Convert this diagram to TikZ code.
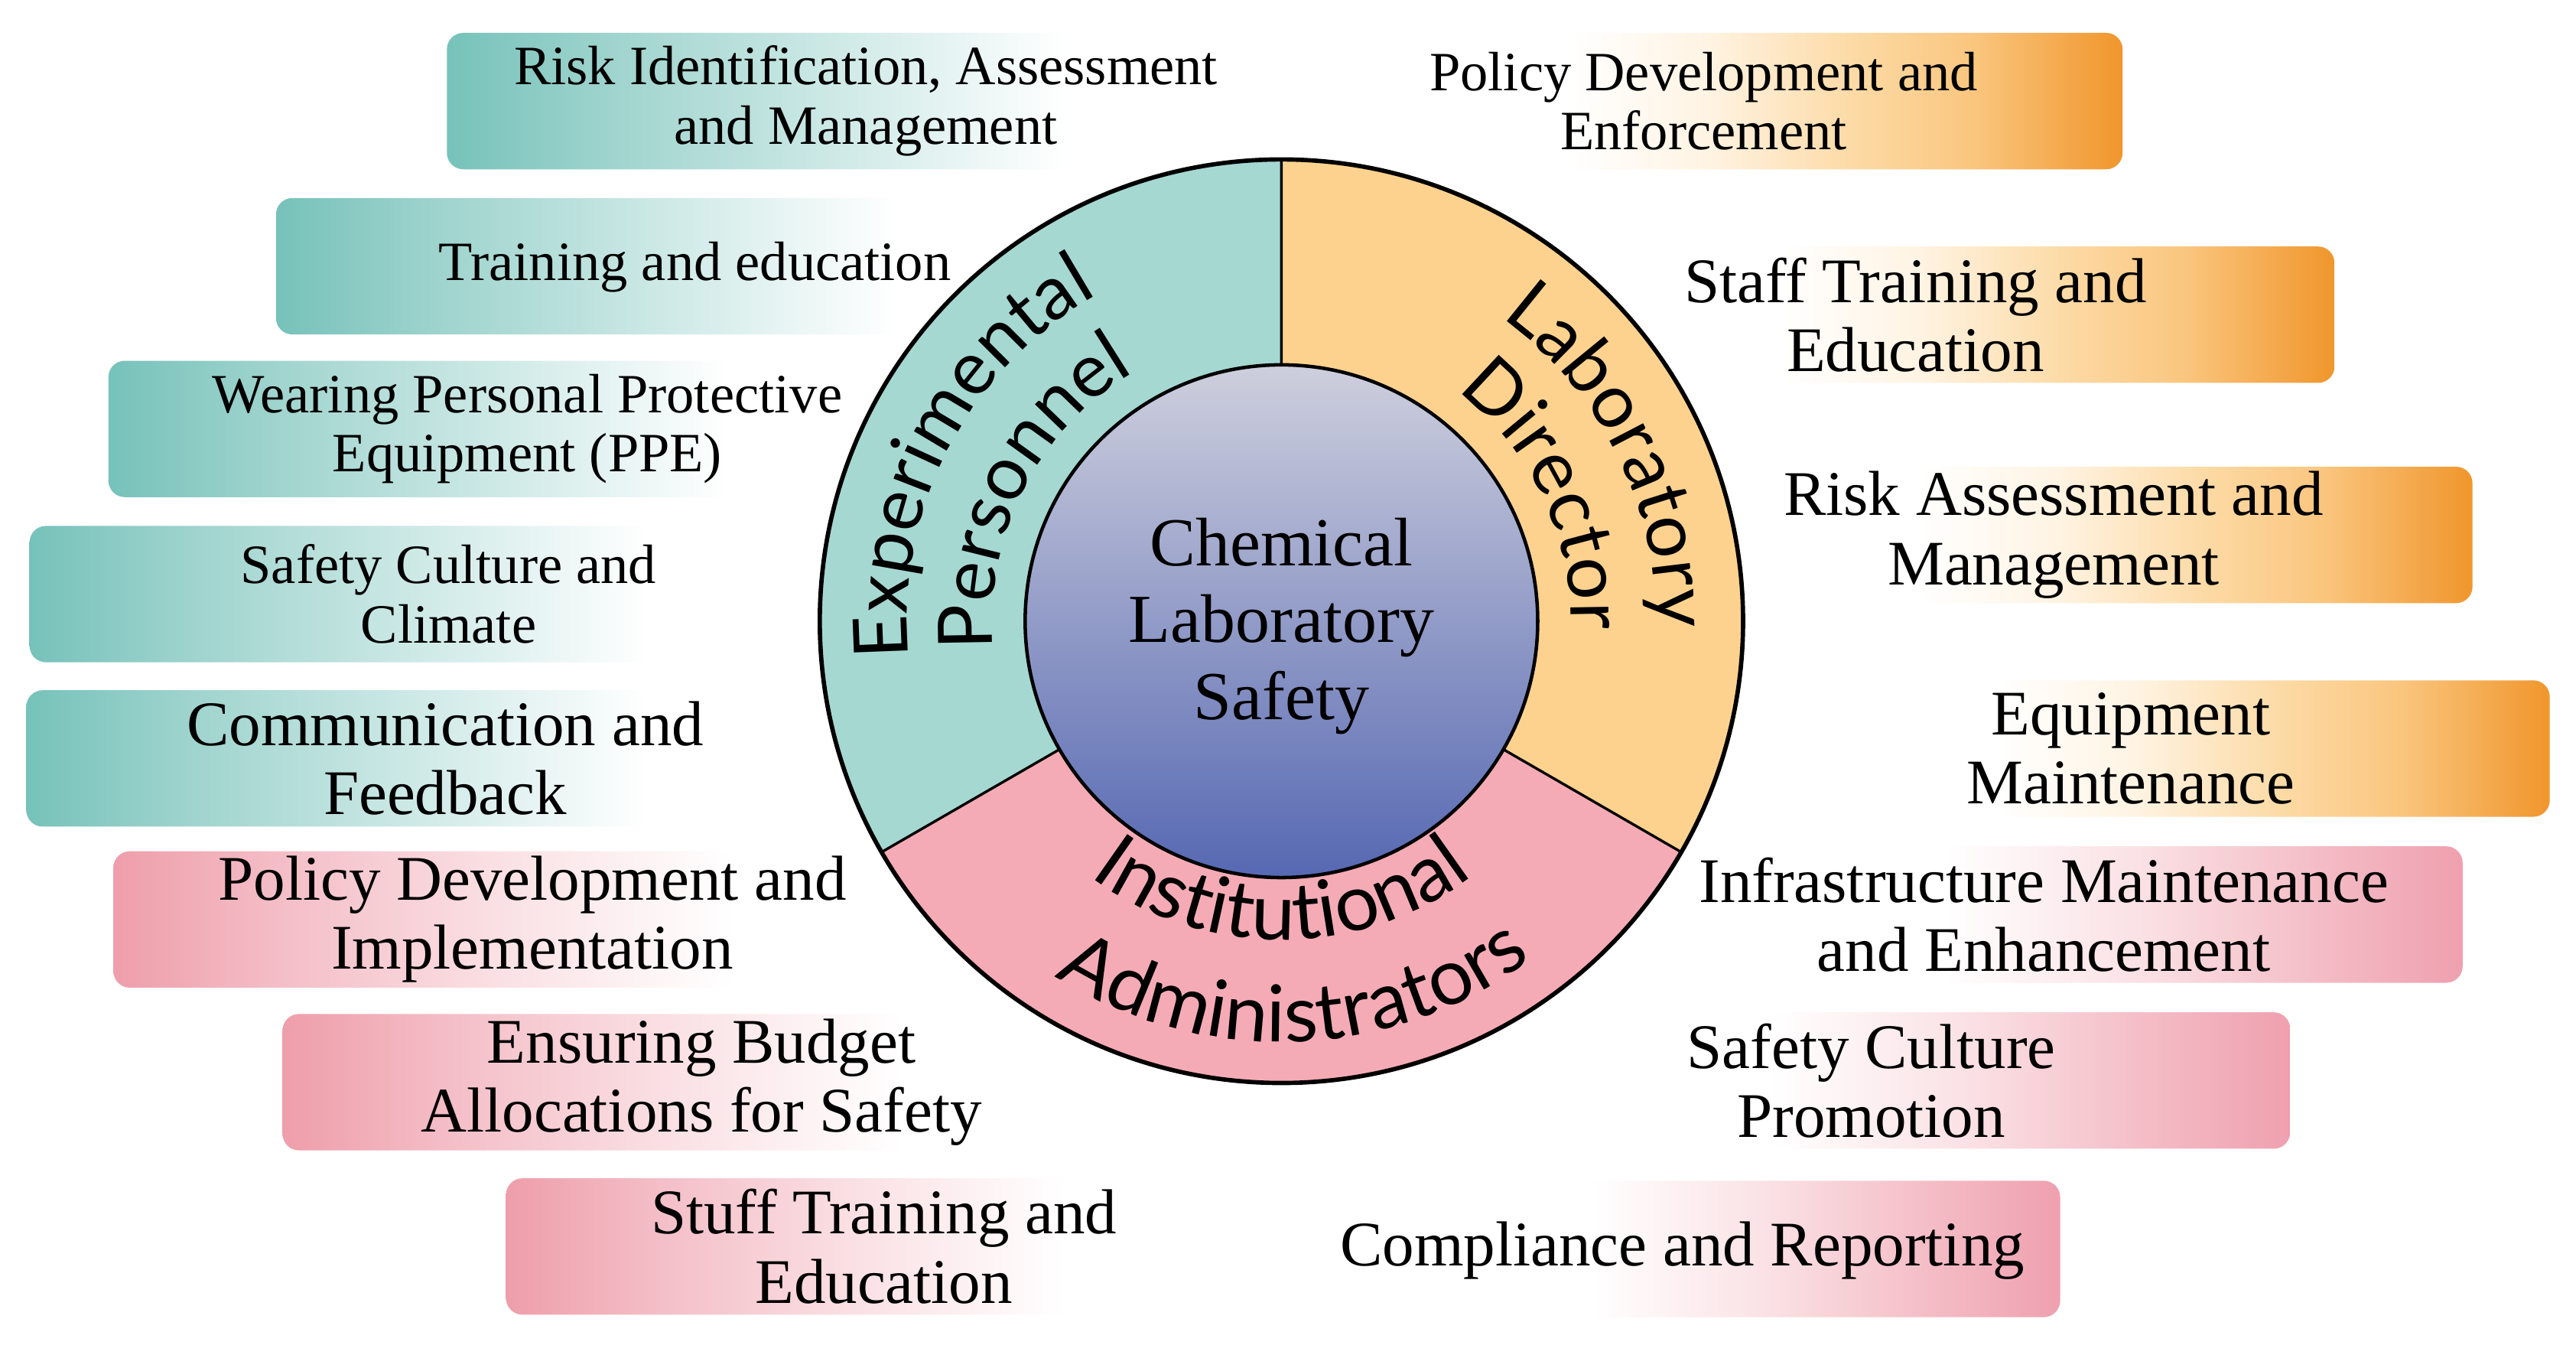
\documentclass[tikz,border=0pt]{standalone}
\usepackage{fontspec}
\setmainfont{Liberation Serif}
\newfontfamily\ringfont{Lato}
\usetikzlibrary{decorations.text}

\definecolor{tealRing}{RGB}{166,216,210}
\definecolor{orangeRing}{RGB}{253,210,142}
\definecolor{pinkRing}{RGB}{245,171,181}
\definecolor{coreTop}{RGB}{206,207,221}
\definecolor{coreBot}{RGB}{86,104,178}
\definecolor{tealD}{RGB}{118,194,186}
\definecolor{tealM}{RGB}{160,212,206}
\definecolor{tealL}{RGB}{205,233,230}
\definecolor{pinkD}{RGB}{238,158,170}
\definecolor{pinkM}{RGB}{244,190,199}
\definecolor{pinkL}{RGB}{250,224,228}
\definecolor{orangeD}{RGB}{240,150,44}
\definecolor{orangeM}{RGB}{250,198,127}
\definecolor{orangeL}{RGB}{252,218,165}
\definecolor{orangeW}{RGB}{255,244,228}
\definecolor{pinkR}{RGB}{239,160,175}

\pgfdeclarehorizontalshading{tealfade}{100bp}{color(0bp)=(tealD); color(25bp)=(tealD); color(35bp)=(tealM); color(48bp)=(tealL); color(62bp)=(white); color(100bp)=(white)}
\pgfdeclarehorizontalshading{pinkfadeL}{100bp}{color(0bp)=(pinkD); color(25bp)=(pinkD); color(35bp)=(pinkM); color(48bp)=(pinkL); color(62bp)=(white); color(100bp)=(white)}
\pgfdeclarehorizontalshading{orangefade}{100bp}{color(0bp)=(white); color(42bp)=(white); color(50bp)=(orangeW); color(59bp)=(orangeL); color(66bp)=(orangeM); color(75bp)=(orangeD); color(100bp)=(orangeD)}
\pgfdeclarehorizontalshading{pinkfadeR}{100bp}{color(0bp)=(white); color(44bp)=(white); color(56bp)=(pinkL); color(66bp)=(pinkM); color(75bp)=(pinkR); color(100bp)=(pinkR)}

\newcommand\ringtxt{\ringfont\fontsize{13}{15}\selectfont}
\newcommand\ringtxtb{\ringfont\fontsize{13.6}{15}\selectfont}

\tikzset{
  itembox/.style={minimum width=51mm, minimum height=8.3mm, rounded corners=1mm,
    inner sep=0pt, align=center, text=black, shade},
  smalltxt/.style={font=\fontsize{9.6}{10.3}\selectfont},
  largetxt/.style={font=\fontsize{11}{11.95}\selectfont},
  tealbox/.style={itembox, shading=tealfade},
  pinkleftbox/.style={itembox, shading=pinkfadeL},
  orangebox/.style={itembox, shading=orangefade},
  pinkrightbox/.style={itembox, shading=pinkfadeR},
  ringlabel/.style={decorate, decoration={text along path, text align=center, text={|\ringtxt|#1}}},
  ringlabelb/.style={decorate, decoration={text along path, text align=center, text={|\ringtxtb|#1}}}
}

\begin{document}
\begin{tikzpicture}[x=0.1mm, y=0.1mm]
\useasboundingbox (0,0) rectangle (1568,-818);
\fill[white] (0,0) rectangle (1568,-818);

% left boxes
\node[tealbox, smalltxt] (b1) at (527,-61.5) {Risk Identification, Assessment\\and Management};
\node[tealbox, smalltxt, text depth=0.6mm] (b2) at (423,-162) {Training and education};
\node[tealbox, smalltxt] (b3) at (321,-261) {Wearing Personal Protective\\Equipment (PPE)};
\node[tealbox, smalltxt] (b4) at (273,-361.5) {Safety Culture and\\Climate};
\node[tealbox, largetxt] (b5) at (271,-461.5) {Communication and\\Feedback};
\node[pinkleftbox, largetxt] (b6) at (324,-559.5) {Policy Development and\\Implementation};
\node[pinkleftbox, largetxt] (b7) at (427,-658.5) {Ensuring Budget\\Allocations for Safety};
\node[pinkleftbox, largetxt, minimum width=46mm] (b8) at (538,-758.5) {Stuff Training and\\Education};

% right boxes
\node[orangebox, smalltxt] (b9) at (1037,-61.5) {Policy Development and\\Enforcement};
\node[orangebox, largetxt] (b10) at (1166,-191.5) {Staff Training and\\Education};
\node[orangebox, largetxt] (b11) at (1250,-325.5) {Risk Assessment and\\Management};
\node[orangebox, largetxt] (b12) at (1297,-455.5) {Equipment\\Maintenance};
\node[pinkrightbox, largetxt] (b13) at (1244,-556.5) {Infrastructure Maintenance\\and Enhancement};
\node[pinkrightbox, largetxt] (b14) at (1139,-657.5) {Safety Culture\\Promotion};
\node[pinkrightbox, largetxt, minimum width=46mm, text depth=0.6mm] (b15) at (1024,-760) {Compliance and Reporting};

% ring
\begin{scope}[shift={(780,-378)}]
  \fill[tealRing] (90:156) -- (90:281) arc[start angle=90, end angle=210, radius=281]
     -- (210:156) arc[start angle=210, end angle=90, radius=156] -- cycle;
  \fill[orangeRing] (-30:156) -- (-30:281) arc[start angle=-30, end angle=90, radius=281]
     -- (90:156) arc[start angle=90, end angle=-30, radius=156] -- cycle;
  \fill[pinkRing] (210:156) -- (210:281) arc[start angle=210, end angle=330, radius=281]
     -- (330:156) arc[start angle=330, end angle=210, radius=156] -- cycle;
  \draw[line width=0.45pt] (90:156) -- (90:281) (210:156) -- (210:281) (330:156) -- (330:281);
  \draw[line width=0.75pt] (0,0) circle[radius=281];
  \node[circle, draw, line width=0.6pt, minimum size=31.2mm, inner sep=0pt,
        top color=coreTop, bottom color=coreBot] (core) at (0,0) {};
  \node[align=center, font=\fontsize{11.9}{13.3}\selectfont, inner sep=0pt] (coretext) at (0,-3) {Chemical\\Laboratory\\Safety};

  \path[ringlabel=Experimental] (215:228) arc[start angle=215, end angle=90, radius=228];
  \path[ringlabel=Personnel] (213:176) arc[start angle=213, end angle=93, radius=176];
  \path[ringlabel=Laboratory] (86.5:228) arc[start angle=86.5, end angle=-33.5, radius=228];
  \path[ringlabel=Director] (85.5:176) arc[start angle=85.5, end angle=-34.5, radius=176];
  \path[ringlabelb=Institutional] (210:194) arc[start angle=210, end angle=330, radius=194];
  \path[ringlabelb=Administrators] (212:256) arc[start angle=212, end angle=332, radius=256];
\end{scope}
\end{tikzpicture}
\end{document}
